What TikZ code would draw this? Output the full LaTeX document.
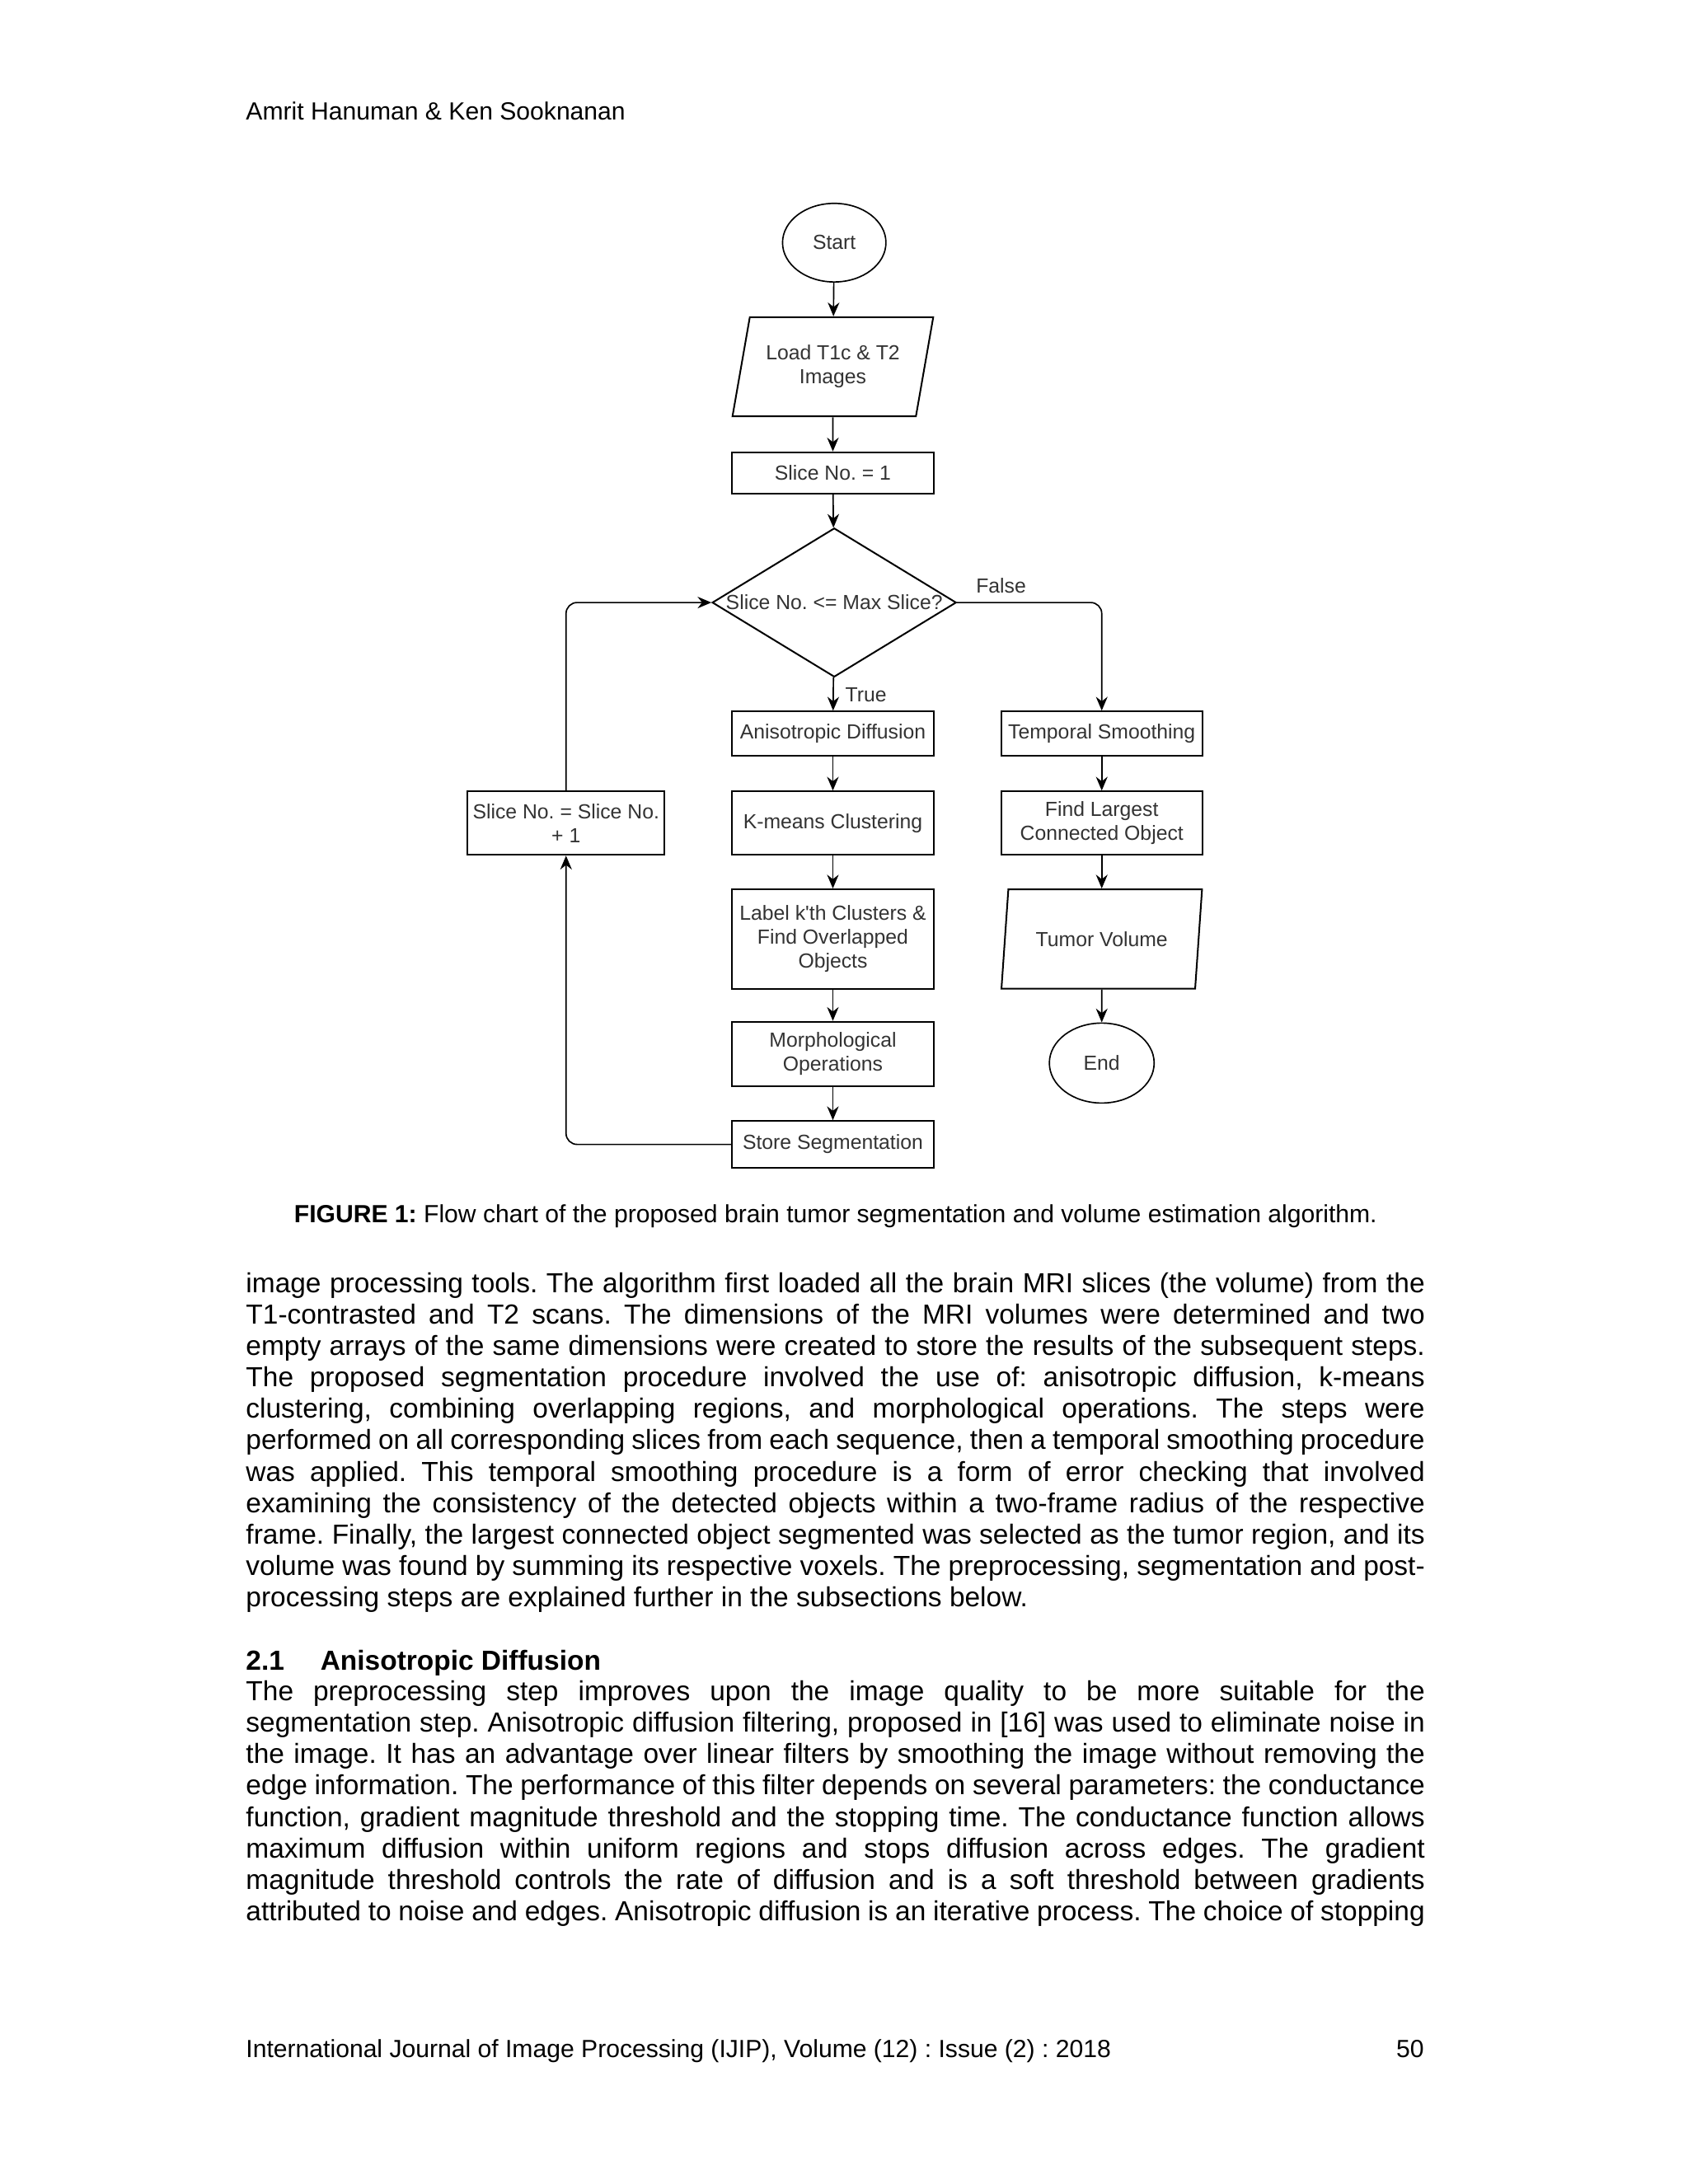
\documentclass[tikz,border=0pt]{standalone}
\usepackage{fontspec}
\setmainfont{Liberation Sans}
\usetikzlibrary{shapes.geometric,arrows.meta}
\frenchspacing

\tikzset{
  arr/.style={-{Stealth[length=5pt,width=4.2pt]}, line width=0.5pt},
  chart/.style={font=\fontsize{7.4}{8.7}\selectfont, text=black!80},
  procbox/.style={chart, draw, line width=0.6pt, rectangle, minimum width=73pt, align=center, inner sep=1pt},
  iobox/.style={chart, draw, line width=0.6pt, trapezium, trapezium left angle=72, trapezium right angle=108,
    trapezium stretches=true, minimum width=73pt, minimum height=36pt, align=center, inner sep=0pt},
  termnode/.style={chart, draw, line width=0.5pt, ellipse, minimum width=37.5pt, minimum height=28.5pt, inner sep=0pt},
  para/.style={anchor=north west, text width=427.5pt, align=justify, inner sep=0pt,
    font=\fontsize{10}{11.4}\selectfont},
  small/.style={inner sep=0pt, font=\fontsize{9}{11}\selectfont}
}

\begin{document}
\begin{tikzpicture}[x=0.5pt,y=-0.5pt]
\useasboundingbox[fill=white] (0,0) rectangle (1224,1584);
% header
\node[small, anchor=base west] (head) at (178,87) {Amrit Hanuman \& Ken Sooknanan};
% flow chart
\node[termnode] (start) at (605,176) {Start};
\node[iobox] (load) at (604,266) {Load T1c \& T2\\Images};
\node[procbox, minimum height=15pt] (init) at (604,343) {Slice No. = 1};
\node[chart, draw, line width=0.6pt, diamond, minimum width=88.5pt, minimum height=54pt, inner sep=0pt,
  label={[chart]center:Slice No. <= Max Slice?}] (test) at (605,437) {};
\node[procbox, minimum height=16pt] (aniso) at (604,532) {Anisotropic Diffusion};
\node[procbox, minimum height=23pt] (kmeans) at (604,597) {K-means Clustering};
\node[procbox, minimum height=36pt] (label) at (604,681) {Label k\textquotesingle th Clusters \&\\Find Overlapped\\Objects};
\node[procbox, minimum height=23.5pt] (morph) at (604,764.5) {Morphological\\Operations};
\node[procbox, minimum height=17pt] (store) at (604,830) {Store Segmentation};
\node[procbox, minimum width=71.5pt, minimum height=23pt] (incr) at (410.5,597) {Slice No. = Slice No.\\+ 1};
\node[procbox, minimum height=16pt] (smooth) at (799,532) {Temporal Smoothing};
\node[procbox, minimum height=23pt] (largest) at (799,597) {Find Largest\\Connected Object};
\node[iobox] (volume) at (799,681) {Tumor Volume};
\node[termnode, minimum width=38pt, minimum height=29pt] (end) at (799,771) {End};
\node[chart] (false) at (726,425) {False};
\node[chart] (true) at (628,504) {True};

\draw[arr] (start) -- (load);
\draw[arr] (load) -- (init);
\draw[arr] (init) -- (test);
\draw[arr] (test) -- (aniso);
\draw[arr] (aniso) -- (kmeans);
\draw[arr] (kmeans) -- (label);
\draw[arr] (label) -- (morph);
\draw[arr] (morph) -- (store);
\draw[arr, rounded corners=4pt] (store.west) -| (incr.south);
\draw[arr, rounded corners=4pt] (incr.north) |- (test.west);
\draw[arr, rounded corners=4pt] (test.east) -| (smooth.north);
\draw[arr] (smooth) -- (largest);
\draw[arr] (largest) -- (volume);
\draw[arr] (volume) -- (end);
% caption and text
\node[small, anchor=base] (caption) at (606,887)
  {\textbf{FIGURE 1:} Flow chart of the proposed brain tumor segmentation and volume estimation algorithm.};
\node[para] (body) at (178,922.5) {image processing tools. The algorithm first loaded all the brain MRI slices (the volume) from the\linebreak
T1-contrasted and T2 scans. The dimensions of the MRI volumes were determined and two\linebreak
empty arrays of the same dimensions were created to store the results of the subsequent steps.\linebreak
The proposed segmentation procedure involved the use of: anisotropic diffusion, k-means\linebreak
clustering, combining overlapping regions, and morphological operations. The steps were\linebreak
performed on all corresponding slices from each sequence, then a temporal smoothing procedure\linebreak
was applied. This temporal smoothing procedure is a form of error checking that involved\linebreak
examining the consistency of the detected objects within a two-frame radius of the respective\linebreak
frame. Finally, the largest connected object segmented was selected as the tumor region, and its\linebreak
volume was found by summing its respective voxels. The preprocessing, segmentation and post-\linebreak
processing steps are explained further in the subsections below.};
\node[anchor=base west, inner sep=0pt, font=\bfseries\fontsize{10}{12}\selectfont] (secnum) at (178,1211) {2.1};
\node[anchor=base west, inner sep=0pt, font=\bfseries\fontsize{10}{12}\selectfont] (sectitle) at (232,1211) {Anisotropic Diffusion};
\node[para] (body2) at (178,1218.5) {\parfillskip=0pt \hyphenpenalty=10000 \spaceskip=2.78pt plus 3pt minus 1.6pt
The preprocessing step improves upon the image quality to be more suitable for the\linebreak
segmentation step. Anisotropic diffusion filtering, proposed in [16] was used to eliminate noise in\linebreak
the image. It has an advantage over linear filters by smoothing the image without removing the\linebreak
edge information. The performance of this filter depends on several parameters: the conductance\linebreak
function, gradient magnitude threshold and the stopping time. The conductance function allows\linebreak
maximum diffusion within uniform regions and stops diffusion across edges. The gradient\linebreak
magnitude threshold controls the rate of diffusion and is a soft threshold between gradients\linebreak
attributed to noise and edges. Anisotropic diffusion is an iterative process. The choice of stopping};
% footer
\node[small, anchor=base west] (journal) at (178,1492)
  {International Journal of Image Processing (IJIP), Volume (12) : Issue (2) : 2018};
\node[small, anchor=base east] (page) at (1033,1492) {50};
\end{tikzpicture}
\end{document}
